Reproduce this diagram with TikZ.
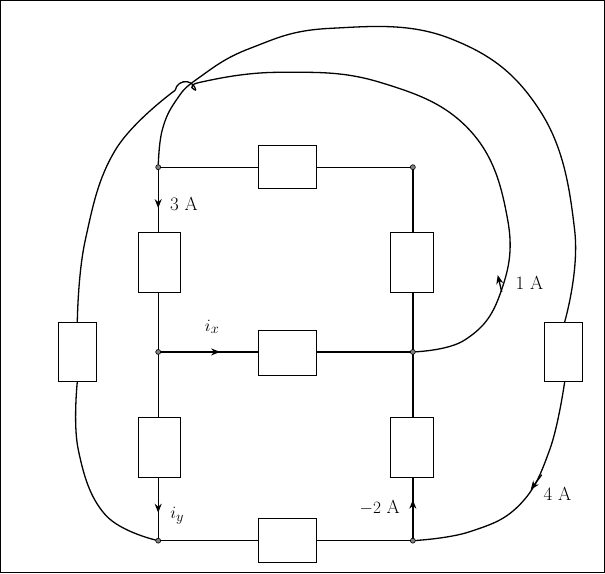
\documentclass[tikz,border=0pt]{standalone}
\usetikzlibrary{arrows.meta}
\begin{document}
\begin{tikzpicture}[x=1pt,y=-1pt,line width=1.3pt,
  comp/.style={draw,fill=white,line width=0.9pt,minimum width=#1,inner sep=0pt},
  dot/.style={circle,draw,fill=gray,inner sep=0pt,minimum size=5pt,line width=0.6pt},
  arr/.style={-{Stealth[length=9pt,width=7pt]}},
  lbl/.style={font=\fontsize{19}{22}\selectfont}]
\draw[line width=0.8pt] (0,0) rectangle (605,573);
\useasboundingbox (0,0) rectangle (605,573);
\coordinate (TL) at (158,167);
\coordinate (TR) at (413,167);
\coordinate (ML) at (158,352);
\coordinate (MR) at (413,352);
\coordinate (BL) at (158,541);
\coordinate (BR) at (413,541);
% grid wires
\draw (TL) -- (TR) -- (BR) -- (BL) -- (TL);
\draw (ML) -- (MR);
% outer wires
\draw plot[smooth,tension=0.7] coordinates {(158,167) (162,130) (176,100) (198,78) (250,48) (330,28) (450,38) (540,110) (575,230) (565,322)};
\draw plot[smooth,tension=0.7] coordinates {(565,382) (550,450) (520,505) (470,532) (413,541)};
\draw plot[smooth,tension=0.7] coordinates {(158,541) (105,515) (78,450) (77,382)};
\draw plot[smooth,tension=0.7] coordinates {(77,322) (85,240) (115,150) (175,90)};
\draw (175,90) arc[start angle=190,end angle=350,radius=10.5];
\draw plot[smooth,tension=0.7] coordinates {(195.7,90) (200,82) (280,72) (380,82) (470,130) (508,220) (500,295) (465,340) (413,352)};
% components
\node[comp=58pt,minimum height=43pt] (c1) at (287,167) {};
\node[comp=42pt,minimum height=60pt] (c2) at (159,262) {};
\node[comp=42pt,minimum height=60pt] (c3) at (159,448) {};
\node[comp=43pt,minimum height=60pt] (c4) at (412,262) {};
\node[comp=43pt,minimum height=60pt] (c5) at (412,448) {};
\node[comp=58pt,minimum height=45pt] (c6) at (287,353) {};
\node[comp=58pt,minimum height=44pt] (c7) at (287,541) {};
\node[comp=38pt,minimum height=60pt] (c8) at (77,352) {};
\node[comp=38pt,minimum height=60pt] (c9) at (564,352) {};
% nodes
\foreach \p in {TL,TR,ML,MR,BL,BR} \node[dot] at (\p) {};
% arrows
\draw[arr] (158,190) -- (158,208);
\draw[arr] (200,352) -- (220,352);
\draw[arr] (158,495) -- (158,513);
\draw[arr] (413,520) -- (413,500);
\draw[arr] (502,292) -- (498,275);
\draw[arr] (542,475) -- (531,490);
% labels
\node[lbl,anchor=west] at (166,204) {3 A};
\node[lbl] at (212,327) {$i_x$};
\node[lbl] at (177,516) {$i_y$};
\node[lbl,anchor=east] at (404,508) {$-2$ A};
\node[lbl,anchor=west] at (512,283) {1 A};
\node[lbl,anchor=west] at (540,494) {4 A};
\end{tikzpicture}
\end{document}
